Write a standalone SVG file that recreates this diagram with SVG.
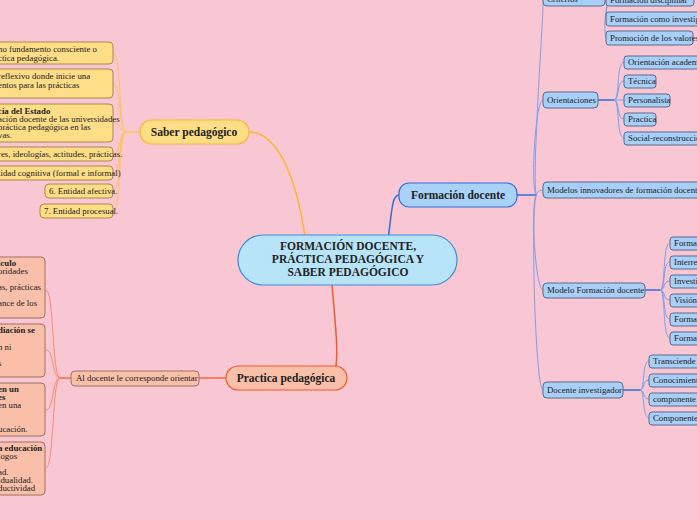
<svg xmlns="http://www.w3.org/2000/svg" width="697" height="520" viewBox="0 0 697 520">
<style>
text{font-family:"Liberation Serif","DejaVu Serif",serif;font-size:8.8px;fill:#222}
.b{font-weight:bold}
.m{font-size:11.5px;font-weight:bold;text-anchor:middle}
.y{fill:#fedd87;stroke:#a88a4a;stroke-width:1}
.o{fill:#f9bfa8;stroke:#a07060;stroke-width:1}
.u{fill:#a8cff8;stroke:#5a6a88;stroke-width:1}
.cy{fill:none;stroke:#fcc55a;stroke-width:1}
.co{fill:none;stroke:#fb8a6a;stroke-width:1}
.cu{fill:none;stroke:#7d9fe8;stroke-width:1}
</style>
<rect width="697" height="520" fill="#f9c6d3"/>
<g id="connectors">
<path d="M305 236 C295 170 275 132 249 132" fill="none" stroke="#fbb52d" stroke-width="1.5"/>
<path d="M388 240 C392 210 392 195 399 195" fill="none" stroke="#2f6fd8" stroke-width="1.5"/>
<path d="M332 285 C336 330 338 350 336 366" fill="none" stroke="#f35a2a" stroke-width="1.5"/>
<path d="M140 132 H126" stroke="#fcc55a" stroke-width="1.5"/>
<path class="cy" d="M126 132 C118 132 122 53 113 53 M126 132 C118 132 122 84 113 84 M126 132 C118 132 122 123 113 123 M126 132 C118 132 122 154 113 154 M126 132 C118 132 122 173 113 173 M126 132 C118 132 122 191 113 191 M126 132 C118 132 122 211 113 211"/>
<path d="M226 378 H199 M71 378 H60" stroke="#fb6a3a" stroke-width="1.5"/>
<path class="co" d="M60 378 C52 378 54 290 46 290 M60 378 C52 378 54 350 46 350 M60 378 C52 378 54 410 46 410 M60 378 C52 378 54 468 46 468"/>
<path d="M517 195 H537" stroke="#2f6fd8" stroke-width="1.5"/>
<path class="cu" d="M537 195 C530 195 545 -2 543 -2 M537 195 C530 195 535 100 543 100 M537 195 C535 195 538 190 543 190 M537 195 C530 195 535 290 543 290 M537 195 C530 195 535 390 543 390"/>
<path d="M605 -2 H612 M598 100 H614 M645 290 H660 M623 390 H640" stroke="#2f6fd8" stroke-width="1.5"/>
<path class="cu" d="M612 -2 C606 -2 606 19 606 19 M612 -2 C604 -2 604 38 606 38 M614 100 C620 100 616 62 624 62 M614 100 C620 100 616 81 624 81 M614 100 C620 100 616 100 624 100 M614 100 C620 100 616 119 624 119 M614 100 C620 100 616 138 624 138"/>
<path class="cu" d="M660 290 C666 290 662 243 670 243 M660 290 C666 290 662 262 670 262 M660 290 C666 290 662 281 670 281 M660 290 C666 290 662 300 670 300 M660 290 C666 290 662 319 670 319 M660 290 C666 290 662 338 670 338"/>
<path class="cu" d="M640 390 C645 390 642 361 649 361 M640 390 C645 390 642 380 649 380 M640 390 C645 390 642 399 649 399 M640 390 C645 390 642 418 649 418"/>
</g>
<g id="center"><rect x="238" y="235" width="219" height="50" rx="25" fill="#b7e4f8" stroke="#3a8ed8" stroke-width="1.2"/>
<text class="m" x="348" y="250">FORMACIÓN DOCENTE,</text><text class="m" x="348" y="263">PRÁCTICA PEDAGÓGICA Y</text><text class="m" x="348" y="276">SABER PEDAGÓGICO</text></g>
<g id="saber"><rect x="140" y="120" width="109" height="24" rx="12" fill="#fedd87" stroke="#fbb52d" stroke-width="1.2"/><text class="m" x="194" y="136">Saber pedagógico</text></g>
<g id="formacion"><rect x="399" y="183" width="118" height="24" rx="10" fill="#a8d2f8" stroke="#2f6fd8" stroke-width="1.2"/><text class="m" x="458" y="199">Formación docente</text></g>
<g id="practica"><rect x="226" y="366" width="121" height="24" rx="12" fill="#f9bfa8" stroke="#f35a2a" stroke-width="1.2"/><text class="m" x="286" y="382">Practica pedagógica</text></g>
<g id="s1"><rect class="y" x="-10" y="42" width="123" height="22" rx="4"/><text x="-2" y="52">no fundamento consciente o</text><text x="-2" y="61">ctica pedagógica.</text></g>
<g id="s2"><rect class="y" x="-10" y="69" width="123" height="29" rx="4"/><text x="-2" y="79">reflexivo donde inicie una</text><text x="-2" y="88">entos para las prácticas</text></g>
<g id="s3"><rect class="y" x="-10" y="104" width="123" height="38" rx="4"/><text class="b" x="-2" y="114">cia del Estado</text><text x="-2" y="122">ación docente de las universidades</text><text x="-2" y="130">práctica pedagógica en las</text><text x="-2" y="138">vas.</text></g>
<g id="s4"><rect class="y" x="-10" y="147" width="123" height="14" rx="4"/><text x="-2" y="157">res, ideologías, actitudes, prácticas.</text></g>
<g id="s5"><rect class="y" x="-10" y="166" width="123" height="14" rx="4"/><text x="-2" y="176">tidad cognitiva (formal e informal)</text></g>
<g id="s6"><rect class="y" x="45" y="184" width="68" height="14" rx="4"/><text x="49" y="194">6. Entidad afectiva.</text></g>
<g id="s7"><rect class="y" x="40" y="204" width="73" height="14" rx="4"/><text x="44" y="214">7. Entidad procesual.</text></g>
<g id="orientar"><rect class="o" x="71" y="371" width="128" height="15" rx="4"/><text x="76" y="381">Al docente  le corresponde orientar</text></g>
<g id="p1"><rect class="o" x="-10" y="257" width="55" height="61" rx="4"/><text class="b" x="-2" y="266">iculo</text><text x="-2" y="274">oridades</text><text x="-2" y="290">as, prácticas</text><text x="-2" y="306">ance de los</text></g>
<g id="p2"><rect class="o" x="-10" y="324" width="55" height="53" rx="4"/><text class="b" x="-2" y="333">diación se</text><text x="-2" y="350">n ni</text><text x="-2" y="366">s</text></g>
<g id="p3"><rect class="o" x="-10" y="383" width="55" height="53" rx="4"/><text class="b" x="-2" y="392">en un</text><text class="b" x="-2" y="400">es</text><text x="-2" y="408">en una</text><text x="-2" y="432">ucación.</text></g>
<g id="p4"><rect class="o" x="-10" y="442" width="55" height="53" rx="4"/><text class="b" x="-2" y="451">a educación</text><text x="-2" y="459">logos</text><text x="-2" y="475">ad.</text><text x="-2" y="483">idualidad.</text><text x="-2" y="491">ductividad</text></g>
<g id="criterios"><rect class="u" x="543" y="-10" width="62" height="16" rx="4"/><text x="547" y="2">Criterios</text></g>
<g id="c1"><rect class="u" x="606" y="-8" width="88" height="14" rx="3"/><text x="610" y="3">Formación disciplinar</text></g>
<g id="c2"><rect class="u" x="606" y="12" width="100" height="14" rx="3"/><text x="610" y="22">Formación como investigador</text></g>
<g id="c3"><rect class="u" x="606" y="31" width="87" height="14" rx="3"/><text x="610" y="41">Promoción de los valores</text></g>
<g id="orientaciones"><rect class="u" x="543" y="92" width="55" height="16" rx="4"/><text x="547" y="103">Orientaciones</text></g>
<g id="o1"><rect class="u" x="624" y="56" width="80" height="13" rx="3"/><text x="628" y="65">Orientación academicista</text></g>
<g id="o2"><rect class="u" x="624" y="75" width="32" height="13" rx="3"/><text x="628" y="84">Técnica</text></g>
<g id="o3"><rect class="u" x="624" y="94" width="46" height="13" rx="3"/><text x="628" y="103">Personalista</text></g>
<g id="o4"><rect class="u" x="624" y="113" width="32" height="13" rx="3"/><text x="628" y="122">Practica</text></g>
<g id="o5"><rect class="u" x="624" y="132" width="80" height="13" rx="3"/><text x="628" y="141">Social-reconstruccionista</text></g>
<g id="modelos"><rect class="u" x="543" y="182" width="160" height="16" rx="4"/><text x="547" y="193">Modelos innovadores de formación docente</text></g>
<g id="modelo"><rect class="u" x="543" y="283" width="102" height="15" rx="4"/><text x="547" y="293">Modelo Formación docente</text></g>
<g id="m1"><rect class="u" x="670" y="237" width="40" height="13" rx="3"/><text x="674" y="246">Formación</text></g>
<g id="m2"><rect class="u" x="670" y="256" width="40" height="13" rx="3"/><text x="674" y="265">Interrelación</text></g>
<g id="m3"><rect class="u" x="670" y="275" width="40" height="13" rx="3"/><text x="674" y="284">Investigación</text></g>
<g id="m4"><rect class="u" x="670" y="294" width="40" height="13" rx="3"/><text x="674" y="303">Visión</text></g>
<g id="m5"><rect class="u" x="670" y="313" width="40" height="13" rx="3"/><text x="674" y="322">Formación</text></g>
<g id="m6"><rect class="u" x="670" y="332" width="40" height="13" rx="3"/><text x="674" y="341">Formación</text></g>
<g id="docinv"><rect class="u" x="543" y="382" width="80" height="16" rx="4"/><text x="547" y="393">Docente investigador</text></g>
<g id="d1"><rect class="u" x="649" y="355" width="60" height="13" rx="3"/><text x="653" y="364">Transciende la</text></g>
<g id="d2"><rect class="u" x="649" y="374" width="60" height="13" rx="3"/><text x="653" y="383">Conocimiento</text></g>
<g id="d3"><rect class="u" x="649" y="393" width="60" height="13" rx="3"/><text x="653" y="402">componente a</text></g>
<g id="d4"><rect class="u" x="649" y="412" width="60" height="13" rx="3"/><text x="653" y="421">Componente p</text></g>
</svg>
